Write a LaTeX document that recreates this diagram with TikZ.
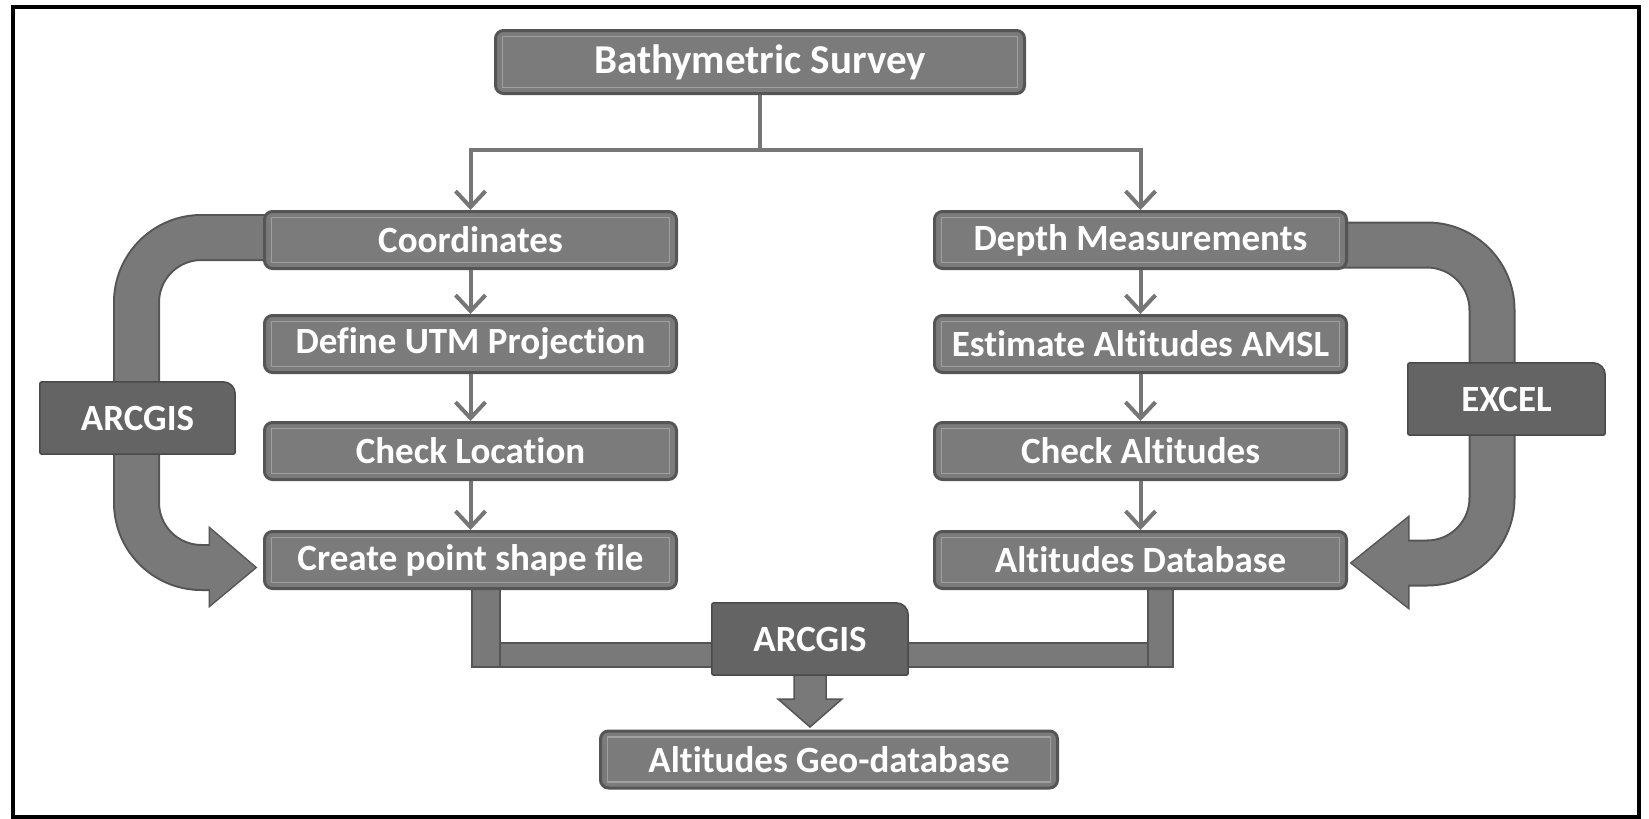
\documentclass[tikz,border=0pt]{standalone}
\usepackage{fontspec}
\setmainfont{Carlito}[RawFeature={-liga}]
\usetikzlibrary{arrows.meta,calc}
\definecolor{boxfill}{HTML}{7B7B7B}
\definecolor{boxline}{HTML}{555555}
\definecolor{bevel}{HTML}{A0A0A0}
\definecolor{labfill}{HTML}{646464}
\definecolor{labline}{HTML}{4A4A4A}
\definecolor{bandfill}{HTML}{797979}
\definecolor{bandline}{HTML}{555555}
\definecolor{connc}{HTML}{767676}
\pgfdeclarelayer{arrowlayer}
\pgfdeclarelayer{labellayer}
\pgfsetlayers{arrowlayer,labellayer,main}
\begin{document}
\begin{tikzpicture}[x=1pt,y=-1pt,
  stepbox/.style={draw=boxline, line width=3pt, fill=boxfill, rounded corners=8pt,
    minimum height=57pt, text=white, font=\fontsize{37}{40}\selectfont\bfseries, inner sep=0pt,
    path picture={\draw[bevel, line width=1.5pt, sharp corners]
      ([shift={(7pt,-6pt)}]path picture bounding box.north west) rectangle
      ([shift={(-7pt,6pt)}]path picture bounding box.south east);}},
  colbox/.style={stepbox, minimum width=412pt},
  labtext/.style={text=white, font=\fontsize{37}{40}\selectfont\bfseries, inner sep=0pt, minimum height=72pt},
  labshape/.style={fill=labfill, draw=labline, line width=1.5pt},
  conn/.style={draw=connc, line width=4pt},
  tip/.style={-{Straight Barb[length=16pt,width=30pt]}},
  bandout/.style={draw=bandline, line width=47pt, rounded corners=65pt},
  bandin/.style={draw=bandfill, line width=43pt, rounded corners=65pt},
  barstyle/.style={fill=bandfill, draw=bandline, line width=1.5pt}
]
\useasboundingbox (0,0) rectangle (1649,819);
\draw[line width=4pt] (13,7) rectangle (1639,817);

% main boxes
\node[stepbox, minimum width=529pt, minimum height=63pt, font=\fontsize{41}{44}\selectfont\bfseries] (bathy) at (760,62) {Bathymetric Survey};
\node[colbox] (coord) at (470.5,240) {Coordinates};
\node[colbox] (utm)   at (470.5,344) {Define UTM Projection};
\node[colbox] (loc)   at (470.5,451) {Check Location};
\node[colbox] (shp)   at (470.5,560) {Create point shape file};
\node[colbox] (depth) at (1140.5,240) {Depth Measurements};
\node[colbox] (amsl)  at (1140.5,344) {Estimate Altitudes AMSL};
\node[colbox] (chk)   at (1140.5,451) {Check Altitudes};
\node[colbox] (adb)   at (1140.5,560) {Altitudes Database};
\node[stepbox, minimum width=457pt] (geo) at (829,759.5) {Altitudes Geo-database};

% label nodes
\node[labtext, minimum width=195pt] (arcL)  at (137.5,418) {ARCGIS};
\node[labtext, minimum width=197pt] (excel) at (1506.5,399) {EXCEL};
\node[labtext, minimum width=196pt] (arcB)  at (810,639) {ARCGIS};

\begin{pgfonlayer}{labellayer}
\foreach \n in {arcL,excel,arcB}{
  \draw[labshape, rounded corners=2pt] (\n.south west) -- (\n.north west)
     [rounded corners=12pt] -- (\n.north east) [rounded corners=2pt] -- (\n.south east) -- cycle;
}
\end{pgfonlayer}

% connectors
\coordinate (hub) at (760,150);
\draw[conn] (bathy.south) -- (hub);
\draw[conn, tip] (hub) -| (coord.north);
\draw[conn, tip] (hub) -| (depth.north);
\draw[conn, tip] (coord) -- (utm);
\draw[conn, tip] (utm) -- (loc);
\draw[conn, tip] (loc) -- (shp);
\draw[conn, tip] (depth) -- (amsl);
\draw[conn, tip] (amsl) -- (chk);
\draw[conn, tip] (chk) -- (adb);

% big curved arrows and bars
\begin{pgfonlayer}{arrowlayer}
\coordinate (lstart) at ($(coord.west)+(30,-2.5)$);
\coordinate (lc1) at (136.5,237.5);
\coordinate (lc2) at (136.5,567.5);
\coordinate (lend) at (214,567.5);
\draw[bandout] (lstart) -- (lc1) -- (lc2) -- (lend);
\draw[draw=bandline, line width=3pt, fill=bandfill] (210,529) -- (255,567.5) -- (210,605) -- cycle;
\draw[bandin] (lstart) -- (lc1) -- (lc2) -- (lend);
\fill[bandfill] (210,529) -- (255,567.5) -- (210,605) -- cycle;

\coordinate (rstart) at ($(depth.east)+(-30,5)$);
\coordinate (rc1) at (1492,245);
\coordinate (rc2) at (1492,563);
\coordinate (rend) at (1404,563);
\draw[bandout] (rstart) -- (rc1) -- (rc2) -- (rend);
\draw[draw=bandline, line width=3pt, fill=bandfill] (1408,518) -- (1352,563) -- (1408,607) -- cycle;
\draw[bandin] (rstart) -- (rc1) -- (rc2) -- (rend);
\fill[bandfill] (1408,518) -- (1352,563) -- (1408,607) -- cycle;

\draw[barstyle] (486,643) rectangle (1160,667);
\draw[barstyle] (472,584) rectangle (500,667);
\draw[barstyle] (1148,584) rectangle (1173,667);

\draw[barstyle] ($(arcB.south)+(-16,-5)$) -- (794,699) -- (778,699) -- (810,727)
   -- (842,699) -- (826,699) -- ($(arcB.south)+(16,-5)$) -- cycle;
\end{pgfonlayer}
\end{tikzpicture}
\end{document}
